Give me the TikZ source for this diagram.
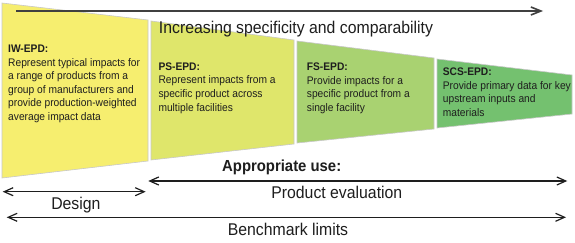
\documentclass[tikz,border=0pt]{standalone}
\usepackage{fontspec}
\setmainfont[FakeStretch=0.93]{Liberation Sans}
\usetikzlibrary{arrows.meta}
\definecolor{cA}{HTML}{F6EE6F}
\definecolor{cB}{HTML}{DFE66B}
\definecolor{cC}{HTML}{A9D271}
\definecolor{cD}{HTML}{74C16F}
\definecolor{edge}{HTML}{C8C8C8}
\definecolor{ink}{HTML}{1E1E1E}
\tikzset{
  panel/.style={draw=edge, line width=0.6pt},
  body/.style={anchor=base west, inner sep=0pt, align=left, text=ink,
    font=\fontsize{11}{13.6}\selectfont},
  big/.style={anchor=base, inner sep=0pt, text=ink, font=\fontsize{17}{20}\selectfont},
  twohead/.style={ink, line width=1.2pt, {Straight Barb[length=9pt,width=8pt]}-{Straight Barb[length=9pt,width=8pt]}},
  toparrow/.style={draw=ink!85, line width=1.6pt, -{Straight Barb[length=10pt,width=8pt]}}
}
\begin{document}
\begin{tikzpicture}[x=1pt,y=-1pt]
\useasboundingbox (0,0) rectangle (575,243);
\fill[white] (0,0) rectangle (575,243);
% funnel panels
\draw[panel, fill=cA] (2,3) -- (148,20) -- (148,161) -- (2,178) -- cycle;
\draw[panel, fill=cB] (151,21) -- (294,40) -- (294,144) -- (151,160) -- cycle;
\draw[panel, fill=cC] (297,41) -- (434,58) -- (434,129) -- (297,143) -- cycle;
\draw[panel, fill=cD] (437,59) -- (572,75) -- (572,114) -- (437,128) -- cycle;
% top arrow
\coordinate (t1) at (16,11);
\coordinate (t2) at (543,11);
\draw[toparrow] (t1) -- (t2);
\node[big] (title) at (296,34) {Increasing specificity and comparability};
% panel texts (anchored at the baseline of the last line)
\node[body] (iw) at (8,120.5) {\textbf{IW-EPD:}\\Represent typical impacts for\\a range of products from a\\group of manufacturers and\\provide production-weighted\\average impact data};
\node[body] (ps) at (158.3,111) {\textbf{PS-EPD:}\\Represent impacts from a\\specific product across\\multiple facilities};
\node[body] (fs) at (306.7,111.5) {\textbf{FS-EPD:}\\Provide impacts for a\\specific product from a\\single facility};
\node[body] (scs) at (442.7,116.5) {\textbf{SCS-EPD:}\\Provide primary data for key\\upstream inputs and\\materials};
% appropriate use
\node[big, font=\bfseries\fontsize{16}{19}\selectfont] (use) at (281.7,171) {Appropriate use:};
\coordinate (p1) at (148.3,181);
\coordinate (p2) at (567.3,181);
\draw[twohead] (p1) -- (p2);
\node[big] (prod) at (336.8,198.3) {Product evaluation};
\coordinate (d1) at (2.7,191.7);
\coordinate (d2) at (145.7,191.7);
\draw[twohead] (d1) -- (d2);
\node[big] (design) at (75.9,209) {Design};
\coordinate (b1) at (6.7,217.3);
\coordinate (b2) at (566,217.3);
\draw[twohead] (b1) -- (b2);
\node[big] (bench) at (288,235) {Benchmark limits};
\end{tikzpicture}
\end{document}
